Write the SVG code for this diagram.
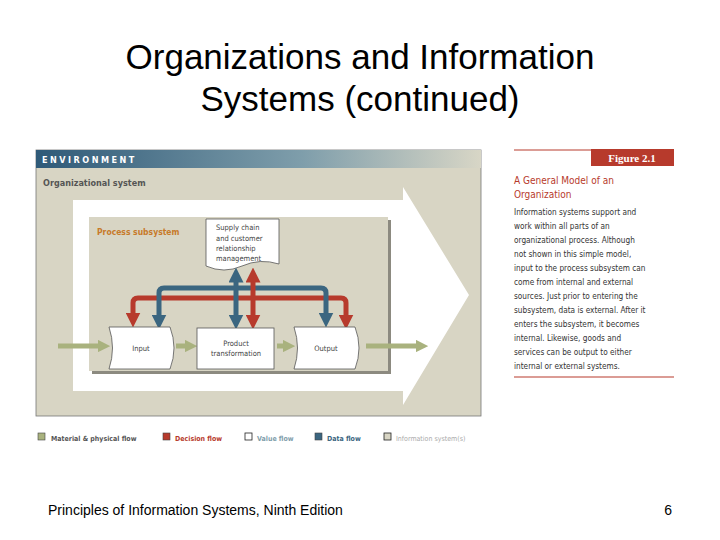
<svg xmlns="http://www.w3.org/2000/svg" width="720" height="540" viewBox="0 0 720 540">
<defs>
<linearGradient id="hdr" x1="0" x2="1"><stop offset="0" stop-color="#2f5a78"/><stop offset="0.6" stop-color="#7f9eab"/><stop offset="1" stop-color="#d8d6c6"/></linearGradient>
<marker id="ab" viewBox="0 0 10 10" refX="5" refY="5" markerWidth="3" markerHeight="3" orient="auto-start-reverse"><path d="M0,0 L10,5 L0,10 Z" fill="#3b6680"/></marker>
<marker id="ar" viewBox="0 0 10 10" refX="5" refY="5" markerWidth="3" markerHeight="3" orient="auto-start-reverse"><path d="M0,0 L10,5 L0,10 Z" fill="#b73a2c"/></marker>
<marker id="ag" viewBox="0 0 10 10" refX="5" refY="5" markerWidth="2.5" markerHeight="2.5" orient="auto"><path d="M0,0 L10,5 L0,10 Z" fill="#a9b27e"/></marker>
</defs>
<style>
.t{font-family:"Liberation Sans",Arial,sans-serif}
.s{font-family:"DejaVu Sans Condensed","DejaVu Sans",sans-serif}
.b{stroke:#3b6680;stroke-width:5;fill:none}
.r{stroke:#b73a2c;stroke-width:5;fill:none}
.g{stroke:#a9b27e;stroke-width:5;fill:none}
.box{fill:#fff;stroke:#555;stroke-width:0.8}
</style>
<text class="t" x="360" y="69" font-size="35" text-anchor="middle" fill="#000">Organizations and Information</text>
<text class="t" x="360" y="111" font-size="35" text-anchor="middle" fill="#000">Systems (continued)</text>
<g id="panel">
<rect x="36" y="150" width="445" height="266" fill="#d8d5c4" stroke="#777" stroke-width="0.8"/>
<rect x="36" y="150" width="445" height="18" fill="url(#hdr)"/>
<text class="s" x="42" y="163" font-size="9" font-weight="bold" fill="#fff" letter-spacing="2.5">ENVIRONMENT</text>
<text class="s" x="43" y="186" font-size="9" font-weight="bold" fill="#555">Organizational system</text>
<path d="M73,200 H403 V187 L469,295 L403,405 V391 H73 Z" fill="#fff"/>
</g>
<g id="process">
<rect x="92" y="220" width="299" height="154" fill="#8c8a80"/>
<rect x="89" y="217" width="299" height="154" fill="#d8d5c4"/>
<text class="s" x="97" y="235" font-size="8.5" font-weight="bold" fill="#c77a2a">Process subsystem</text>
</g>
<g id="supply">
<path d="M206,219 H279 V264 Q260,258 242,266 Q224,274 206,266 Z" class="box"/>
<text class="s" font-size="7.5" fill="#444"><tspan x="216" y="230">Supply chain</tspan><tspan x="216" y="241">and customer</tspan><tspan x="216" y="251">relationship</tspan><tspan x="216" y="261">management</tspan></text>
</g>
<g id="connectors">
<path class="r" d="M133,320 V303 Q133,298 138,298 H341 Q346,298 346,303 V322" marker-start="url(#ar)" marker-end="url(#ar)"/>
<path class="b" d="M159,322 V293 Q159,288 164,288 H321 Q326,288 326,293 V320" marker-start="url(#ab)" marker-end="url(#ab)"/>
<path class="b" d="M236,275 V322" marker-start="url(#ab)" marker-end="url(#ab)"/>
<path class="r" d="M253,275 V322" marker-start="url(#ar)" marker-end="url(#ar)"/>
<path class="g" d="M58,346 H104" marker-end="url(#ag)"/>
<path class="g" d="M176,346 H191" marker-end="url(#ag)"/>
<path class="g" d="M277,346 H289" marker-end="url(#ag)"/>
<path class="g" d="M366,346 H422" marker-end="url(#ag)"/>
</g>
<g id="input">
<path d="M109,327 H170 Q178,348 170,369 H109 Q116,348 109,327 Z" class="box"/>
<text class="s" x="141" y="351" font-size="7.5" text-anchor="middle" fill="#444">Input</text>
</g>
<g id="product">
<rect x="197" y="328" width="77" height="41" class="box"/>
<text class="s" font-size="7.5" text-anchor="middle" fill="#444"><tspan x="236" y="346">Product</tspan><tspan x="236" y="356">transformation</tspan></text>
</g>
<g id="output">
<path d="M294,327 H355 Q363,348 355,369 H294 Q301,348 294,327 Z" class="box"/>
<text class="s" x="326" y="351" font-size="7.5" text-anchor="middle" fill="#444">Output</text>
</g>
<g id="legend" class="s" font-size="7" font-weight="bold">
<rect x="38" y="433" width="7" height="7" fill="#a9b27e" stroke="#444" stroke-width="0.6"/><text x="51" y="441" fill="#555">Material &amp; physical flow</text>
<rect x="163" y="433" width="7" height="7" fill="#b73a2c" stroke="#444" stroke-width="0.6"/><text x="175" y="441" fill="#b73a2c">Decision flow</text>
<rect x="245" y="433" width="7" height="7" fill="#fff" stroke="#222" stroke-width="0.8"/><text x="257" y="441" fill="#7f9eab">Value flow</text>
<rect x="315" y="433" width="7" height="7" fill="#3b6680" stroke="#444" stroke-width="0.6"/><text x="327" y="441" fill="#3b6680">Data flow</text>
<rect x="384" y="433" width="7" height="7" fill="#d8d5c4" stroke="#222" stroke-width="0.8"/><text x="396" y="441" fill="#aaa" font-weight="normal">Information system(s)</text>
</g>
<g id="caption">
<line x1="514" y1="150" x2="674" y2="150" stroke="#b73a2c" stroke-width="1"/>
<rect x="591" y="149" width="83" height="17" fill="#b73a2c"/>
<text x="632" y="162" font-family="Liberation Serif,serif" font-size="11" font-weight="bold" fill="#fff" text-anchor="middle">Figure 2.1</text>
<text class="s" font-size="10" fill="#b73a2c"><tspan x="514" y="184">A General Model of an</tspan><tspan x="514" y="198">Organization</tspan></text>
<text class="s" font-size="8.2" fill="#333">
<tspan x="514" y="215">Information systems support and</tspan>
<tspan x="514" y="229">work within all parts of an</tspan>
<tspan x="514" y="243">organizational process. Although</tspan>
<tspan x="514" y="257">not shown in this simple model,</tspan>
<tspan x="514" y="271">input to the process subsystem can</tspan>
<tspan x="514" y="285">come from internal and external</tspan>
<tspan x="514" y="299">sources. Just prior to entering the</tspan>
<tspan x="514" y="313">subsystem, data is external. After it</tspan>
<tspan x="514" y="327">enters the subsystem, it becomes</tspan>
<tspan x="514" y="341">internal. Likewise, goods and</tspan>
<tspan x="514" y="355">services can be output to either</tspan>
<tspan x="514" y="369">internal or external systems.</tspan>
</text>
<line x1="514" y1="377" x2="674" y2="377" stroke="#b73a2c" stroke-width="1.2"/>
</g>
<text class="t" x="48" y="515" font-size="14" fill="#000">Principles of Information Systems, Ninth Edition</text>
<text class="t" x="672" y="515" font-size="14" fill="#000" text-anchor="end">6</text>
</svg>
